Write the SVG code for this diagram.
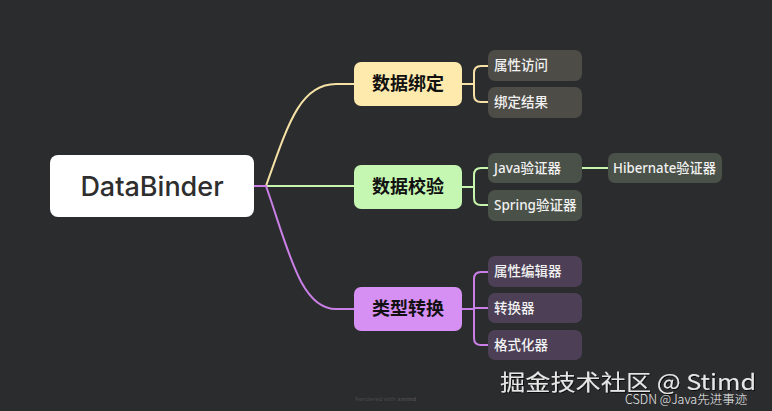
<svg xmlns="http://www.w3.org/2000/svg" width="772" height="411" viewBox="0 0 772 411">
<defs>
<filter id="sh" x="-5%" y="-20%" width="110%" height="140%"><feDropShadow dx="1" dy="1" stdDeviation="0.6" flood-color="#000" flood-opacity="0.7"/></filter>
</defs>
<style>
.l1t{font-family:"Noto Sans CJK SC","Noto Sans",sans-serif;font-size:18px;font-weight:bold;fill:#111;text-anchor:middle}
.l2t{font-family:"Noto Sans","Noto Sans CJK SC",sans-serif;font-size:13.5px;font-weight:500;fill:#f2f2f2}
.c{fill:none;stroke-width:2;stroke-linecap:round}
.y{stroke:#f6e2a6}.g{stroke:#c8f5ad}.p{stroke:#c97fe6}
</style>
<rect width="772" height="411" fill="#2b2c2e"/>
<g id="connectors">
<path class="c g" d="M254,186 H354"/>
<path class="c y" d="M266,186 C288,124 300,84 336,84 H354"/>
<path class="c p" d="M254,186 H266 C288,248 300,309 336,309 H354"/>
<path class="c y" d="M462,84 H474 M488,66 H481 Q474,66 474,73 V95 Q474,102 481,102 H488"/>
<path class="c g" d="M462,187 H474 M488,168 H481 Q474,168 474,175 V198 Q474,205 481,205 H488"/>
<path class="c g" d="M582,168 H608"/>
<path class="c p" d="M462,309 H474 M488,272 H481 Q474,272 474,279 V338 Q474,345 481,345 H488 M474,308 H488"/>
</g>
<g id="root"><rect x="50" y="155" width="204" height="62" rx="8" fill="#ffffff"/><text x="152" y="196" font-family="Inter,'Noto Sans',sans-serif" font-size="27" font-weight="500" fill="#2e2e2e" text-anchor="middle">DataBinder</text></g>
<g id="n1"><rect x="354" y="62" width="108" height="44" rx="7" fill="#ffeaad"/><text class="l1t" x="408" y="90">数据绑定</text></g>
<g id="n2"><rect x="354" y="165" width="108" height="44" rx="7" fill="#c6f7b2"/><text class="l1t" x="408" y="193">数据校验</text></g>
<g id="n3"><rect x="354" y="287" width="108" height="44" rx="7" fill="#d68ff3"/><text class="l1t" x="408" y="315">类型转换</text></g>
<g id="n1a"><rect x="488" y="50" width="94" height="31" rx="7" fill="#4e4c46"/><text class="l2t" x="494" y="70">属性访问</text></g>
<g id="n1b"><rect x="488" y="87" width="94" height="31" rx="7" fill="#4e4c46"/><text class="l2t" x="494" y="107">绑定结果</text></g>
<g id="n2a"><rect x="488" y="153" width="94" height="30" rx="7" fill="#4a5148"/><text class="l2t" x="494" y="173">Java验证器</text></g>
<g id="n2b"><rect x="488" y="190" width="94" height="31" rx="7" fill="#4a5148"/><text class="l2t" x="494" y="210">Spring验证器</text></g>
<g id="n2c"><rect x="608" y="153" width="114" height="30" rx="7" fill="#4a5148"/><text class="l2t" x="613" y="173" textLength="103" lengthAdjust="spacingAndGlyphs">Hibernate验证器</text></g>
<g id="n3a"><rect x="488" y="256" width="94" height="31" rx="7" fill="#4c3f56"/><text class="l2t" x="494" y="276">属性编辑器</text></g>
<g id="n3b"><rect x="488" y="293" width="94" height="30" rx="7" fill="#4c3f56"/><text class="l2t" x="494" y="313">转换器</text></g>
<g id="n3c"><rect x="488" y="330" width="94" height="30" rx="7" fill="#4c3f56"/><text class="l2t" x="494" y="350">格式化器</text></g>
<text x="355" y="401" font-family="'Noto Sans',sans-serif" font-size="6" fill="#4a4a4a">Rendered with <tspan font-weight="bold">xmind</tspan></text>
<text x="500" y="390" font-family="'Noto Sans CJK SC',sans-serif" font-size="22" fill="#e6e6e6" filter="url(#sh)" textLength="256" lengthAdjust="spacingAndGlyphs">掘金技术社区 @ Stimd</text>
<text x="625" y="404" font-family="'Noto Sans CJK SC',sans-serif" font-size="12.5" font-weight="300" fill="#f0f0f0">CSDN @Java先进事迹</text>
</svg>
